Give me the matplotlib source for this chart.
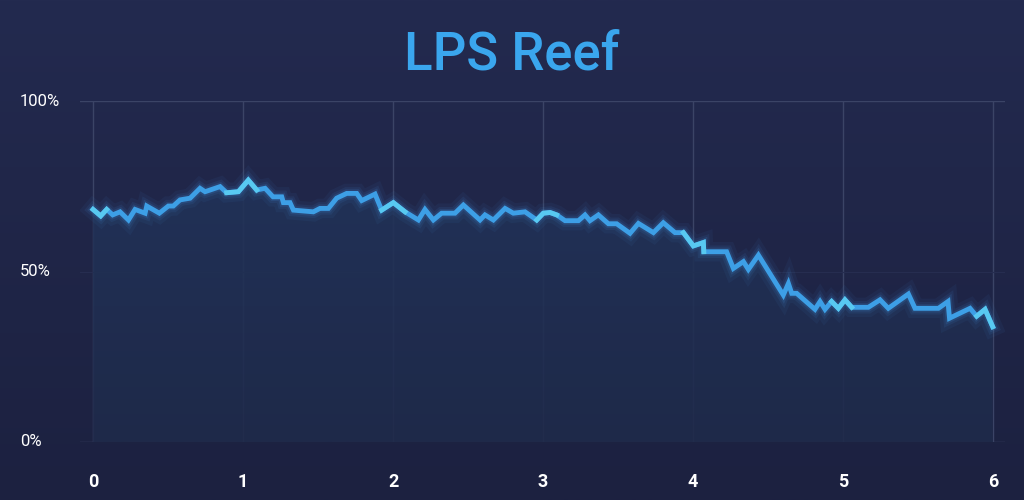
import matplotlib
matplotlib.use("Agg")
import matplotlib.pyplot as plt
import numpy as np
from matplotlib.patches import Polygon
import matplotlib.transforms as mtransforms
from matplotlib.colors import LinearSegmentedColormap

x_vals = [0, 0.051, 0.091, 0.131, 0.18, 0.236, 0.28, 0.347, 0.358, 0.442, 0.502, 0.535, 0.58,
          0.647, 0.713, 0.747, 0.847, 0.891, 0.969, 1.035, 1.091, 1.147, 1.2, 1.258, 1.269,
          1.313, 1.336, 1.469, 1.513, 1.569, 1.624, 1.691, 1.758, 1.791, 1.88, 1.924, 2.002,
          2.08, 2.169, 2.213, 2.269, 2.324, 2.413, 2.469, 2.58, 2.613, 2.669, 2.747, 2.802,
          2.88, 2.958, 3.002, 3.047, 3.091, 3.147, 3.236, 3.28, 3.313, 3.369, 3.436, 3.491,
          3.58, 3.636, 3.736, 3.802, 3.88, 3.936, 4.002, 4.069, 4.072, 4.224, 4.269, 4.336,
          4.369, 4.436, 4.602, 4.636, 4.658, 4.691, 4.813, 4.847, 4.88, 4.924, 4.969, 5.013,
          5.058, 5.169, 5.247, 5.302, 5.436, 5.48, 5.636, 5.70, 5.71, 5.847, 5.891, 5.947, 5.998]
y_vals = [68.2, 66.3, 68.2, 66.6, 67.5, 65.1, 68.2, 67.1, 69.2, 67.1, 69.2, 69.2, 71.0,
          71.5, 74.4, 73.4, 74.9, 73.1, 73.4, 76.8, 73.9, 74.4, 71.9, 71.9, 70.2,
          70.2, 68.0, 67.5, 68.5, 68.5, 71.5, 72.9, 72.9, 70.8, 72.7, 68.0, 70.2,
          67.5, 65.1, 68.2, 65.1, 67.1, 67.1, 69.5, 65.1, 66.6, 65.1, 68.5, 67.1,
          67.5, 65.1, 67.1, 67.3, 66.6, 64.9, 64.9, 66.6, 64.9, 66.6, 64.0, 64.0,
          61.2, 64.1, 61.4, 64.3, 61.4, 61.4, 57.5, 58.5, 55.8, 55.8, 50.9, 52.9,
          50.6, 54.8, 43.1, 46.5, 43.6, 43.6, 38.9, 41.2, 38.9, 41.2, 39.2, 41.7,
          39.5, 39.5, 41.7, 39.2, 43.4, 39.2, 39.2, 41.2, 36.3, 39.2, 36.9, 38.9, 33.8]
x_ticks = [0, 1, 2, 3, 4, 5, 6]
y_ticks = [0, 50, 100]
y_tick_labels = ["0%", "50%", "100%"]
title = "LPS Reef"

x = np.array(x_vals); y = np.array(y_vals)

fig = plt.figure(figsize=(10.24, 5.0), dpi=100)
bg = fig.add_axes([0, 0, 1, 1]); bg.set_axis_off()
grad = np.linspace(0, 1, 256).reshape(-1, 1)
bgcmap = LinearSegmentedColormap.from_list("bg", ["#232a4f", "#1c2140"])
bg.imshow(grad, aspect="auto", cmap=bgcmap, extent=[0, 1, 0, 1])

ax = fig.add_axes([80/1024, 1-442/500, 925/1024, 341/500])
ax.set_facecolor("none")
ax.set_xlim(-0.087, 6.08)
ax.set_ylim(0, 100)
for s in ax.spines.values():
    s.set_visible(False)
for t in x_ticks:
    ax.axvline(t, color="#3b4466", lw=1, zorder=1)
for t in [0, 100]:
    ax.axhline(t, color="#3b4466", lw=1, zorder=1)
ax.axhline(50, color="#262d50", lw=0.8, zorder=1)

fcmap = LinearSegmentedColormap.from_list("f", ["#1f2a4a", "#22345a"])
im = ax.imshow(np.linspace(0, 1, 256).reshape(-1, 1), aspect="auto", cmap=fcmap,
               extent=[x[0], x[-1], 0, 80], origin="lower", zorder=2, alpha=0.9)
poly = Polygon(np.column_stack([np.r_[x, x[-1], x[0]], np.r_[y, 0, 0]]), closed=True,
               transform=ax.transData, facecolor="none", edgecolor="none")
ax.add_patch(poly)
im.set_clip_path(poly)

for lw, a in [(14, 0.05), (9, 0.08), (6, 0.12)]:
    ax.plot(x, y, color="#4aa8ff", lw=lw, alpha=a, solid_joinstyle="miter", zorder=3)
ax.plot(x, y, color="#3d9fe6", lw=3.5, solid_joinstyle="miter", zorder=4)
for gx in x_ticks:
    m = np.abs(x - gx) < 0.12
    ax.plot(x[m], y[m], color="#5fd4f5", lw=3.5, alpha=0.8, solid_joinstyle="miter", zorder=5)

ax.set_xticks(x_ticks)
ax.set_xticklabels([str(t) for t in x_ticks], color="white", fontsize=13, fontweight="bold")
ax.tick_params(axis="x", length=0, pad=22)
ax.set_yticks([])
trans = mtransforms.blended_transform_factory(fig.transFigure, ax.transData)
for v, lab in zip(y_ticks, y_tick_labels):
    ax.text(20/1024, v, lab, transform=trans, color="white", fontsize=12, ha="left", va="center",
            family="Roboto")
for lab in ax.get_xticklabels():
    lab.set_family("Roboto")
fig.text(0.5, 0.89, title, ha="center", va="center", color="#3aa6ee", fontsize=38,
         family="Roboto", fontweight="medium")
fig.savefig("out.png", dpi=100)
